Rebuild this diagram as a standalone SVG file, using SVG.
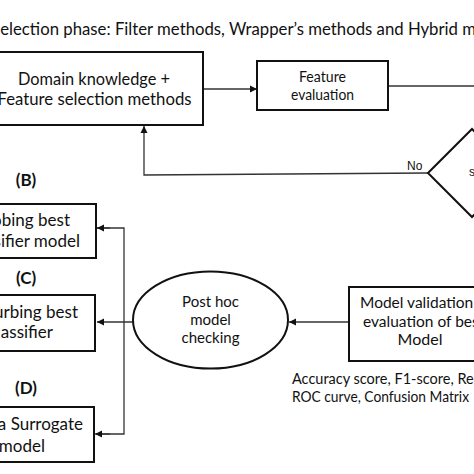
<svg xmlns="http://www.w3.org/2000/svg" width="474" height="474" viewBox="0 0 474 474">
<style>
.t{font-family:Lato,"Liberation Sans",sans-serif;fill:#111}
.a{font-family:"Liberation Sans",Arial,sans-serif;fill:#111}
.box{fill:#fff;stroke:#111;stroke-width:2}
.ln{fill:none;stroke:#333;stroke-width:1.3}
.lb{font-family:Lato,"Liberation Sans",sans-serif;font-weight:bold;font-size:17px;fill:#111;text-anchor:middle}
</style>
<defs>
<marker id="ah" markerWidth="8" markerHeight="8" refX="7" refY="4" orient="auto" markerUnits="userSpaceOnUse">
<path d="M0,0.5 L7,4 L0,7.5 Z" fill="#111"/>
</marker>
</defs>
<rect width="474" height="474" fill="#fff"/>
<text class="t" x="-7" y="35" font-size="16.5" textLength="483" lengthAdjust="spacingAndGlyphs">selection phase: Filter methods, Wrapper’s methods and Hybrid m</text>

<g id="connectors">
<line class="ln" x1="203" y1="89" x2="257" y2="89" marker-end="url(#ah)"/>
<line class="ln" x1="388" y1="86" x2="474" y2="86"/>
<polyline class="ln" points="428,173 144,175 144,126" marker-end="url(#ah)" stroke="#555"/>
<line class="ln" x1="348" y1="322" x2="289" y2="322" marker-end="url(#ah)"/>
<line class="ln" x1="133" y1="322" x2="97" y2="322" marker-end="url(#ah)"/>
<polyline class="ln" points="97,228 124,228 124,434 96,434" stroke="#555"/>
<line class="ln" x1="110" y1="228" x2="97" y2="228" marker-end="url(#ah)"/>
<line class="ln" x1="110" y1="434" x2="95" y2="434" marker-end="url(#ah)"/>
<text class="a" x="407" y="170" font-size="12">No</text>
</g>

<g id="domain">
<rect class="box" x="-3" y="52" width="206" height="73"/>
<text class="t" x="94" y="85" font-size="17" text-anchor="middle" textLength="152" lengthAdjust="spacingAndGlyphs">Domain knowledge +</text>
<text class="t" x="94.5" y="105" font-size="17" text-anchor="middle" textLength="194" lengthAdjust="spacingAndGlyphs">Feature selection methods</text>
</g>

<g id="feature-eval">
<rect class="box" x="257" y="61" width="131" height="49"/>
<text class="t" x="322.5" y="82" font-size="14.5" text-anchor="middle" textLength="47" lengthAdjust="spacingAndGlyphs">Feature</text>
<text class="t" x="322.5" y="100" font-size="14.5" text-anchor="middle" textLength="63" lengthAdjust="spacingAndGlyphs">evaluation</text>
</g>

<g id="decision">
<polygon points="428,173 472,129 516,173 472,217" fill="#fff" stroke="#111" stroke-width="2"/>
<text class="a" x="469" y="176" font-size="12">s</text>
</g>

<g id="label-b"><text class="lb" x="26" y="186">(B)</text></g>
<g id="box-b">
<rect class="box" x="-3" y="204" width="99" height="54"/>
<text class="t" x="70" y="226" font-size="17" text-anchor="end">Probing best</text>
<text class="t" x="80" y="247" font-size="17" text-anchor="end">classifier model</text>
</g>

<g id="label-c"><text class="lb" x="26" y="284">(C)</text></g>
<g id="box-c">
<rect class="box" x="-3" y="295" width="98" height="56"/>
<text class="t" x="78" y="318" font-size="17" text-anchor="end">Perturbing best</text>
<text class="t" x="53" y="338" font-size="17" text-anchor="end">classifier</text>
</g>

<g id="label-d"><text class="lb" x="26" y="394">(D)</text></g>
<g id="box-d">
<rect class="box" x="-3" y="407" width="97" height="55"/>
<text class="t" x="83" y="430" font-size="17" text-anchor="end">a Surrogate</text>
<text class="t" x="45" y="452" font-size="17" text-anchor="end">model</text>
</g>

<g id="posthoc">
<ellipse cx="210.5" cy="320" rx="77.5" ry="48.5" fill="#fff" stroke="#111" stroke-width="2"/>
<text class="t" x="210.5" y="307" font-size="15" text-anchor="middle">Post hoc</text>
<text class="t" x="210.5" y="325" font-size="15" text-anchor="middle">model</text>
<text class="t" x="210.5" y="343" font-size="15" text-anchor="middle">checking</text>
</g>

<g id="validation">
<rect class="box" x="349" y="287" width="132" height="74"/>
<text class="t" x="360" y="308" font-size="15.5">Model validation &amp;</text>
<text class="t" x="363" y="327" font-size="15.5">evaluation of best</text>
<text class="t" x="420" y="345" font-size="16" text-anchor="middle">Model</text>
</g>

<g id="metrics">
<text class="t" x="292" y="384" font-size="14.5">Accuracy score, F1-score, Rec</text>
<text class="t" x="292" y="402" font-size="15" textLength="177" lengthAdjust="spacingAndGlyphs">ROC curve, Confusion Matrix</text>
</g>
</svg>
